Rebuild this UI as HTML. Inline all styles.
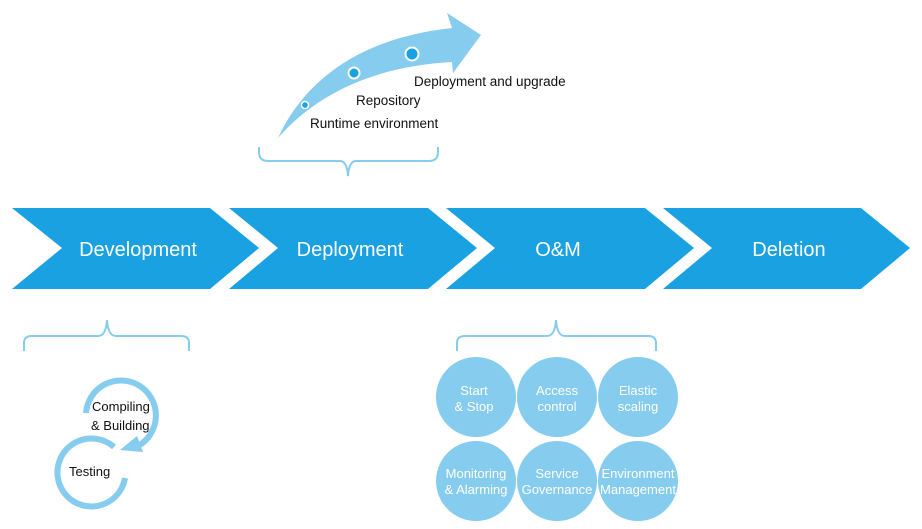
<!DOCTYPE html>
<html><head><meta charset="utf-8"><style>
html,body{margin:0;padding:0;background:#fff;}
svg{display:block;font-family:"Liberation Sans",Arial,sans-serif;}
</style></head><body>
<svg width="922" height="529" viewBox="0 0 922 529" xmlns="http://www.w3.org/2000/svg">
<!-- top arrow -->
<path d="M278,138 C305,80 360,38 452,28 L447,13 L481,35 L453,73 L452,62 C380,66 320,90 278,138 Z" fill="#85CCEE"/>
<circle cx="305" cy="105" r="3.5" fill="#1AA1E1" stroke="#fff" stroke-width="1.5"/>
<circle cx="354" cy="73" r="5.5" fill="#1AA1E1" stroke="#fff" stroke-width="2"/>
<circle cx="412" cy="54" r="6.5" fill="#1AA1E1" stroke="#fff" stroke-width="2"/>
<g font-size="13.5" fill="#111">
<text x="414" y="86">Deployment and upgrade</text>
<text x="356" y="105">Repository</text>
<text x="310" y="128">Runtime environment</text>
</g>
<g fill="none" stroke="#85CCEE" stroke-width="2">
<path d="M259,147 L259,152 Q259,161 268,161 L340,161 Q347,161 348,176 Q349,161 356,161 L429,161 Q438,161 438,152 L438,147"/>
<path d="M24,351 L24,343 Q24,336 32,336 L98,336 Q106,336 107,320 Q108,336 116,336 L181,336 Q189,336 189,343 L189,351"/>
<path d="M457,351 L457,343 Q457,336 465,336 L547,336 Q555,336 556,320 Q557,336 565,336 L648,336 Q656,336 656,343 L656,351"/>
</g>
<!-- chevrons -->
<g fill="#1AA1E1">
<polygon points="12,208 210,208 259,248 210,289 12,289 62,248"/>
<polygon points="229,208 428,208 477,248 428,289 229,289 278,248"/>
<polygon points="446,208 645,208 694,248 645,289 446,289 495,248"/>
<polygon points="663,208 861,208 910,248 861,289 663,289 712,248"/>
</g>
<g font-size="20" fill="#fff" text-anchor="middle">
<text x="138" y="256">Development</text>
<text x="350" y="256">Deployment</text>
<text x="558" y="256">O&amp;M</text>
<text x="789" y="256">Deletion</text>
</g>
<!-- loop -->
<g fill="none" stroke="#85CCEE" stroke-width="6">
<path d="M86,413 A35,35 0 1 1 138,446"/>
<path d="M114,447 A34,34 0 1 0 125,478"/>
</g>
<polygon points="120,450 137,436 143,452" fill="#85CCEE"/>
<g font-size="13" fill="#111">
<text x="92" y="411">Compiling</text>
<text x="91" y="430">&amp; Building</text>
<text x="69" y="476">Testing</text>
</g>
<!-- circles -->
<g fill="#85CCEE">
<circle cx="476" cy="397" r="40"/><circle cx="557" cy="397" r="40"/><circle cx="638" cy="397" r="40"/>
<circle cx="476" cy="481" r="40"/><circle cx="557" cy="481" r="40"/><circle cx="638" cy="481" r="40"/>
</g>
<g font-size="13" fill="#fff" text-anchor="middle">
<text x="474" y="395">Start</text><text x="474" y="411">&amp; Stop</text>
<text x="557" y="395">Access</text><text x="557" y="411">control</text>
<text x="638" y="395">Elastic</text><text x="638" y="411">scaling</text>
<text x="476" y="478">Monitoring</text><text x="476" y="494">&amp; Alarming</text>
<text x="557" y="478">Service</text><text x="557" y="494">Governance</text>
<text x="638" y="478">Environment</text><text x="638" y="494">Management</text>
</g>
</svg>
</body></html>
